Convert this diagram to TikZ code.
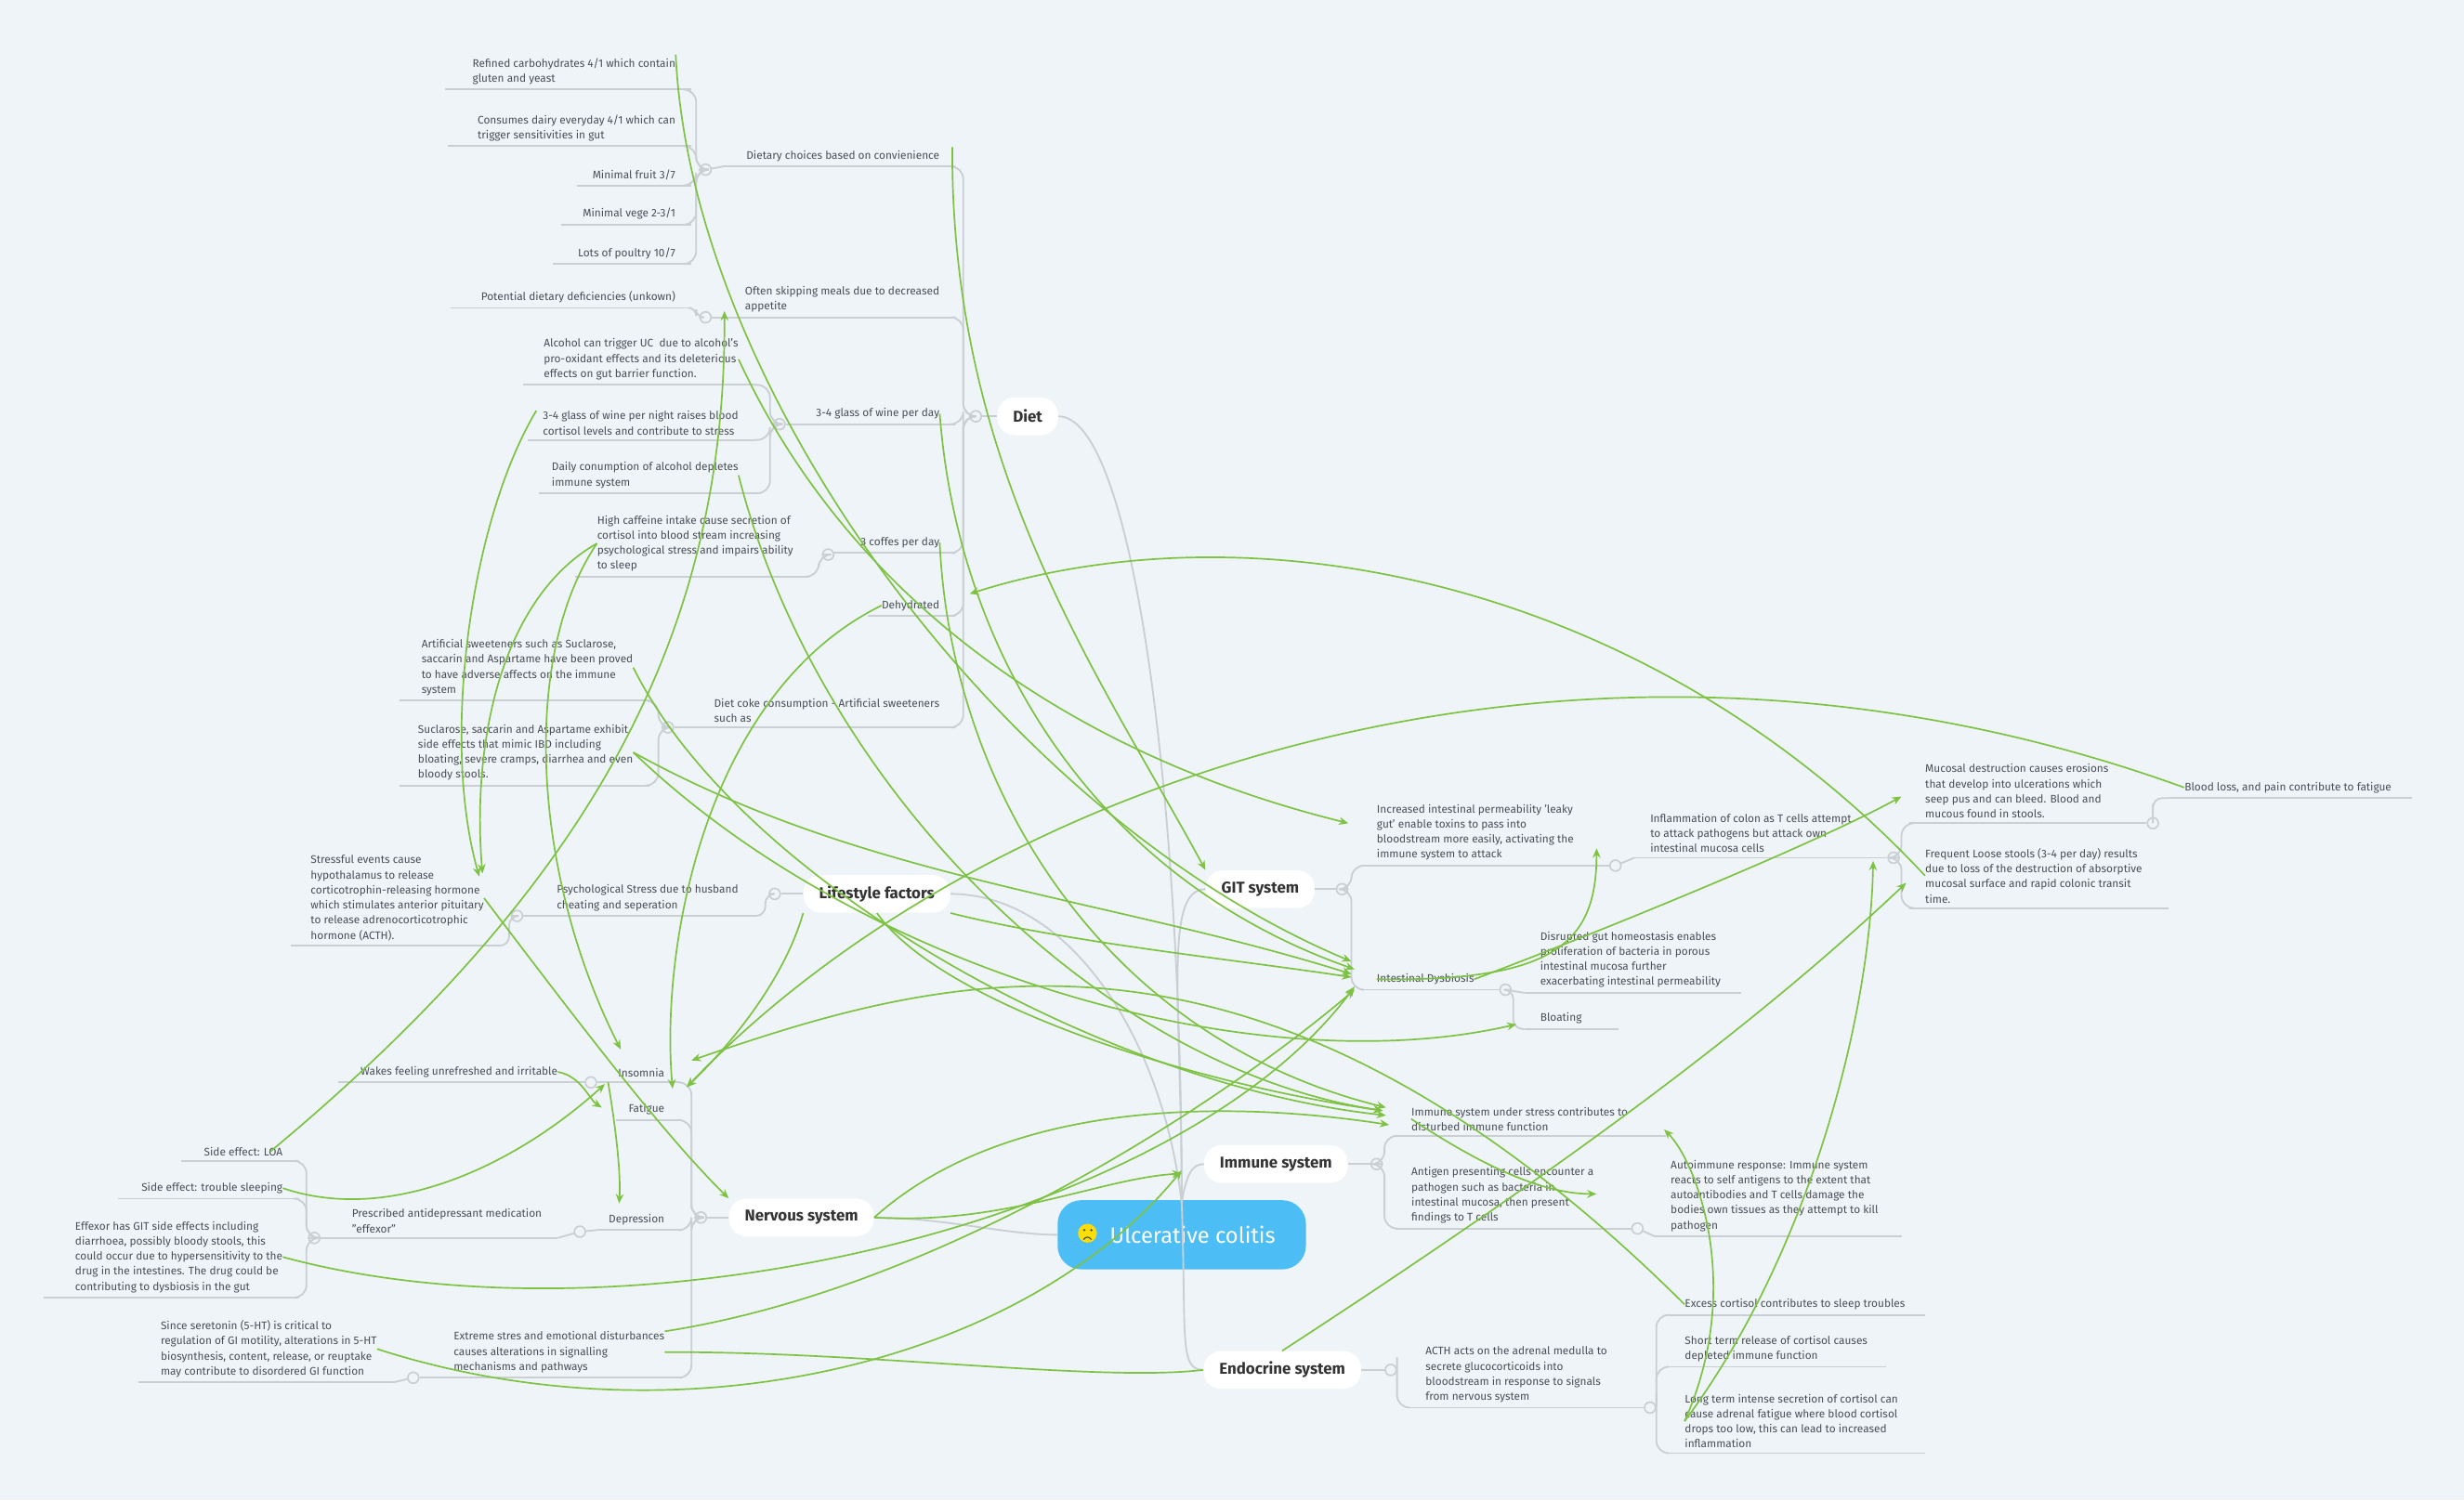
\documentclass[tikz,border=0pt]{standalone}
\usepackage{fontspec}
\setmainfont{Fira Sans}
\usetikzlibrary{calc,arrows.meta}
\definecolor{bg}{HTML}{EEF4F7}
\definecolor{tr}{HTML}{C9CFD3}
\definecolor{gr}{HTML}{7DC242}
\definecolor{tx}{HTML}{4A4F55}
\definecolor{uc}{HTML}{4DBEF5}
\newcommand\lf[5]{\coordinate (#1-l) at (#2,#4);\coordinate (#1-r) at (#3,#4);
 \draw[tree] (#1-l)--(#1-r);
 \node[leaf,anchor=south east] (#1) at ($(#1-r)+(-10,-3)$) {#5};}
\newcommand\rt[5]{\coordinate (#1-l) at (#2,#4);\coordinate (#1-r) at (#3,#4);
 \draw[tree] (#1-l)--(#1-r);
 \node[leaf,anchor=south west] (#1) at ($(#1-l)+(10,-3)$) {#5};}
\newcommand\bdot[2]{\node[dotn] (#1) at (#2) {};}
\begin{document}
\begin{tikzpicture}[x=1pt,y=-1pt,
 tree/.style={draw=tr,line width=1.1pt},
 leaf/.style={inner sep=0pt,align=left,text=tx,font=\fontsize{7}{9.6}\selectfont},
 dotn/.style={circle,draw=tr,fill=bg,line width=1pt,minimum size=7pt,inner sep=0pt},
 topic/.style={fill=white,rounded corners=11pt,minimum height=24pt,inner xsep=10pt,font=\fontsize{10}{12}\selectfont\bfseries,text=black!80},
 ga/.style={draw=gr,line width=1pt,-{Stealth[length=6pt,width=5pt]}},
 gl/.style={draw=gr,line width=1pt}]
\fill[bg] (0,0) rectangle (1568,955);
\useasboundingbox (0,0) rectangle (1568,955);
% ---------------- central + topics
\node[fill=uc,rounded corners=15pt,minimum width=158pt,minimum height=44pt,text=white,font=\fontsize{14}{16}\selectfont,text depth=0pt] (uc) at (752,786) {\hspace{14pt}Ulcerative colitis};
\fill[yellow!80!orange] (692,785) circle (6pt);
\fill[black!70] (690,783) circle (0.8pt) (694.5,783) circle (0.8pt);
\draw[black!70,line width=0.7pt] (689.5,789) .. controls (691,787) and (693,787) .. (694.5,789);
\node[topic] (diet) at (654,265) {Diet};
\node[topic] (life) at (558,569) {Lifestyle factors};
\node[topic] (git) at (802,566) {GIT system};
\node[topic] (imm) at (812,741) {Immune system};
\node[topic] (nerv) at (510,775) {Nervous system};
\node[topic] (endo) at (816,872) {Endocrine system};
\coordinate (hub) at (752,766);
\draw[tree] (hub) .. controls (752,500) and (720,265) .. (diet.east);
\draw[tree] (hub) .. controls (752,640) and (740,566) .. (git.west);
\draw[tree] (hub) .. controls (740,660) and (680,569) .. (life.east);
\draw[tree] (hub) .. controls (755,745) and (760,741) .. (imm.west);
\draw[tree] (uc.west) .. controls (640,786) and (600,775) .. (nerv.east);
\draw[tree] (hub) .. controls (755,850) and (750,872) .. (endo.west);
% ---------------- Diet
\bdot{dd}{621,265}
\draw[tree] (diet.west)--(dd);
\lf{dc}{460}{608}{106}{Dietary choices based on convienience}
\lf{sk}{460}{608}{202}{Often skipping meals due to decreased\\appetite}
\lf{wn}{503}{608}{270}{3-4 glass of wine per day}
\lf{cf}{530}{608}{352}{3 coffes per day}
\lf{dh}{552}{608}{392}{Dehydrated}
\lf{dk}{437}{608}{463}{Diet coke consumption - Artificial sweeteners\\such as}
\foreach \c in {dc,sk,wn,cf,dh,dk}{\draw[tree,rounded corners=8pt] (dd)--++(-8,0)|-(\c-r);}
\bdot{d1}{449,108}\draw[tree] (d1)--(dc-l);
\lf{rc}{283}{440}{57}{Refined carbohydrates 4/1 which contain\\gluten and yeast}
\lf{cd}{285}{440}{93}{Consumes dairy everyday 4/1 which can\\trigger sensitivities in gut}
\lf{mf}{367}{440}{118}{Minimal fruit 3/7}
\lf{mv}{357}{440}{143}{Minimal vege 2-3/1}
\lf{lp}{352}{440}{168}{Lots of poultry 10/7}
\foreach \c in {rc,cd,mf,mv,lp}{\draw[tree,rounded corners=8pt] (d1)--++(-6,0)|-(\c-r);}
\bdot{d2}{449,202}\draw[tree] (d2)--(sk-l);
\lf{pd}{287}{440}{196}{Potential dietary deficiencies (unkown)}
\draw[tree,rounded corners=5pt] (d2)--++(-6,0)|-(pd-r);
\bdot{d3}{496,270}\draw[tree] (d3)--(wn-l);
\lf{al}{333}{480}{245}{Alcohol can trigger UC\ \ due to alcohol's\\pro-oxidant effects and its deleterious\\effects on gut barrier function.}
\lf{wc}{336}{480}{280}{3-4 glass of wine per night raises blood\\cortisol levels and contribute to stress}
\lf{da}{343}{480}{314}{Daily conumption of alcohol depletes\\immune system}
\foreach \c in {al,wc,da}{\draw[tree,rounded corners=8pt] (d3)--++(-6,0)|-(\c-r);}
\bdot{d4}{527,353}\draw[tree] (d4)--(cf-l);
\lf{hc}{366}{515}{367}{High caffeine intake cause secretion of\\cortisol into blood stream increasing\\psychological stress and impairs ability\\to sleep}
\draw[tree,rounded corners=8pt] (d4)--++(-6,0)|-(hc-r);
\bdot{d5}{425,463}\draw[tree] (d5)--(dk-l);
\lf{as}{254}{413}{446}{Artificial sweeteners such as Suclarose,\\saccarin and Aspartame have been proved\\to have adverse affects on the immune\\system}
\lf{sa}{254}{413}{500}{Suclarose, saccarin and Aspartame exhibit\\side effects that mimic IBD including\\bloating, severe cramps, diarrhea and even\\bloody stools.}
\foreach \c in {as,sa}{\draw[tree,rounded corners=8pt] (d5)--++(-6,0)|-(\c-r);}
% ---------------- Lifestyle
\bdot{l0}{493,569}\draw[tree] (life.west)--(l0);
\lf{ps}{340}{480}{583}{Psychological Stress due to husband\\cheating and seperation}
\draw[tree,rounded corners=6pt] (l0)--++(-6,0)|-(ps-r);
\bdot{l1}{329,583}\draw[tree] (l1)--(ps-l);
\lf{se}{185}{318}{602}{Stressful events cause\\hypothalamus to release\\corticotrophin-releasing hormone\\which stimulates anterior pituitary\\to release adrenocorticotrophic\\hormone (ACTH).}
\draw[tree,rounded corners=6pt] (l1)--++(-5,0)|-(se-r);
% ---------------- Nervous
\bdot{n0}{446,775}\draw[tree] (nerv.west)--(n0);
\lf{in}{387}{433}{689}{Insomnia}
\lf{fa}{392}{433}{713}{Fatigue}
\lf{dp}{380}{433}{783}{Depression}
\lf{ex}{275}{433}{877}{Extreme stres and emotional disturbances\\causes alterations in signalling\\mechanisms and pathways}
\foreach \c in {in,fa,dp,ex}{\draw[tree,rounded corners=8pt] (n0)--++(-6,0)|-(\c-r);}
\bdot{n1}{376,689}\draw[tree] (n1)--(in-l);
\lf{wk}{215}{365}{689}{Wakes feeling unrefreshed and irritable}
\draw[tree] (n1)--(wk-r);
\bdot{n2}{369,784}\draw[tree] (n2)--(dp-l);
\lf{pr}{210}{355}{788}{Prescribed antidepressant medication\\"effexor"}
\draw[tree] (n2)--(pr-r);
\bdot{n3}{200,788}\draw[tree] (n3)--(pr-l);
\lf{lo}{115}{190}{739}{Side effect: LOA}
\lf{ts}{75}{190}{763}{Side effect: trouble sleeping}
\lf{ef}{28}{190}{826}{Effexor has GIT side effects including\\diarrhoea, possibly bloody stools, this\\could occur due to hypersensitivity to the\\drug in the intestines. The drug could be\\contributing to dysbiosis in the gut}
\foreach \c in {lo,ts,ef}{\draw[tree,rounded corners=8pt] (n3)--++(-5,0)|-(\c-r);}
\bdot{n4}{263,877}\draw[tree] (n4)--(ex-l);
\lf{sr}{88}{250}{880}{Since seretonin (5-HT) is critical to\\regulation of GI motility, alterations in 5-HT\\biosynthesis, content, release, or reuptake\\may contribute to disordered GI function}
\draw[tree] (n4)--(sr-r);
% ---------------- GIT
\bdot{g0}{854,566}\draw[tree] (git.east)--(g0);
\rt{lg}{866}{1018}{551}{Increased intestinal permeability 'leaky\\gut' enable toxins to pass into\\bloodstream more easily, activating the\\immune system to attack}
\rt{id}{866}{950}{630}{Intestinal Dysbiosis}
\foreach \c in {lg,id}{\draw[tree,rounded corners=8pt] (g0)--++(6,0)|-(\c-l);}
\bdot{g1}{1028,551}\draw[tree] (lg-r)--(g1);
\rt{ic}{1040}{1195}{546}{Inflammation of colon as T cells attempt\\to attack pathogens but attack own\\intestinal mucosa cells}
\draw[tree] (g1)--(ic-l);
\bdot{g2}{1205,546}\draw[tree] (ic-r)--(g2);
\rt{md}{1215}{1362}{524}{Mucosal destruction causes erosions\\that develop into ulcerations which\\seep pus and can bleed. Blood and\\mucous found in stools.}
\rt{fl}{1215}{1380}{578}{Frequent Loose stools (3-4 per day) results\\due to loss of the destruction of absorptive\\mucosal surface and rapid colonic transit\\time.}
\foreach \c in {md,fl}{\draw[tree,rounded corners=8pt] (g2)--++(5,0)|-(\c-l);}
\bdot{g3}{1370,524}\draw[tree] (md-r)--(g3);
\rt{bl}{1380}{1535}{508}{Blood loss, and pain contribute to fatigue}
\draw[tree,rounded corners=6pt] (g3)--++(0,-6)|-(bl-l);
\bdot{g4}{958,630}\draw[tree] (id-r)--(g4);
\rt{dg}{970}{1108}{632}{Disrupted gut homeostasis enables\\proliferation of bacteria in porous\\intestinal mucosa further\\exacerbating intestinal permeability}
\rt{bt}{970}{1030}{655}{Bloating}
\draw[tree] (g4)--(dg-l);
\draw[tree,rounded corners=6pt] (g4)--++(5,0)|-(bt-l);
% ---------------- Immune
\bdot{i0}{876,741}\draw[tree] (imm.east)--(i0);
\rt{is}{888}{1060}{723}{Immune system under stress contributes to\\disturbed immune function}
\rt{ap}{888}{1035}{782}{Antigen presenting cells encounter a\\pathogen such as bacteria in\\intestinal mucosa, then present\\findings to T cells}
\foreach \c in {is,ap}{\draw[tree,rounded corners=8pt] (i0)--++(5,0)|-(\c-l);}
\bdot{i1}{1042,782}\draw[tree] (ap-r)--(i1);
\rt{ar}{1053}{1210}{787}{Autoimmune response: Immune system\\reacts to self antigens to the extent that\\autoantibodies and T cells damage the\\bodies own tissues as they attempt to kill\\pathogen}
\draw[tree] (i1)--(ar-l);
% ---------------- Endocrine
\bdot{e0}{885,872}\draw[tree] (endo.east)--(e0);
\rt{ac}{897}{1040}{896}{ACTH acts on the adrenal medulla to\\secrete glucocorticoids into\\bloodstream in response to signals\\from nervous system}
\draw[tree,rounded corners=8pt] (e0)--++(4,0)|-(ac-l);
\bdot{e1}{1050,896}\draw[tree] (ac-r)--(e1);
\rt{xc}{1062}{1225}{837}{Excess cortisol contributes to sleep troubles}
\rt{st}{1062}{1200}{870}{Short term release of cortisol causes\\depleted immune function}
\rt{lt}{1062}{1225}{925}{Long term intense secretion of cortisol can\\cause adrenal fatigue where blood cortisol\\drops too low, this can lead to increased\\inflammation}
\foreach \c in {xc,st,lt}{\draw[tree,rounded corners=8pt] (e1)--++(4,0)|-(\c-l);}
% ---------------- green arrows
\draw[ga] (rc.north east)++(0,-2) .. controls (440,250) and (640,520) .. (860,612);
\draw[ga] (dc.north east)++(8,-2) .. controls (605,300) and (700,430) .. (git.north west);
\draw[ga] (lo.east)++(-8,0) .. controls (380,560) and (462,400) .. (461,198);
\draw[ga] (wc.north west)++(-4,0) .. controls (300,330) and (280,470) .. (305,558);
\draw[ga] (al.east) .. controls (540,380) and (680,480) .. (858,524);
\draw[ga] (da.east) .. controls (520,500) and (700,680) .. (880,707);
\draw[ga] (hc.west) .. controls (320,380) and (300,470) .. (307,556);
\draw[ga] (hc.west) .. controls (330,420) and (340,560) .. (395,668);
\draw[ga] (dh.west) .. controls (450,440) and (420,600) .. (428,693);
\draw[ga] (fl.west) .. controls (1050,370) and (800,320) .. (617,378);
\draw[ga] (bl.west) .. controls (1000,360) and (620,500) .. (437,692);
\draw[ga] (wn.east) .. controls (610,420) and (700,560) .. (862,617);
\draw[ga] (cf.east) .. controls (605,500) and (700,660) .. (882,705);
\draw[ga] (as.east) .. controls (470,560) and (700,690) .. (882,710);
\draw[ga] (sa.east) .. controls (550,620) and (800,690) .. (965,652);
\draw[ga] (sa.east) .. controls (550,560) and (700,570) .. (860,620);
\draw[ga] (se.east) .. controls (360,640) and (420,720) .. (nerv.north west);
\draw[ga] (wk.east) .. controls (370,685) and (375,700) .. (383,705);
\draw[ga] (ts.east) .. controls (250,780) and (330,740) .. (385,690);
\draw[ga] (xc.west) .. controls (800,560) and (600,620) .. (440,675);
\draw[ga] (in-l) .. controls (393,725) and (395,750) .. (394,766);
\draw[ga] (ef.east) .. controls (400,860) and (750,780) .. (862,628);
\draw[ga] (sr.east) .. controls (430,920) and (650,870) .. (752,745);
\draw[gl] (ex.east) .. controls (550,860) and (700,880) .. (endo.west);
\draw[ga] (nerv.east) .. controls (640,780) and (700,750) .. (752,747);
\draw[ga] (nerv.east) .. controls (640,700) and (780,700) .. (884,716);
\draw[ga] (endo.north) .. controls (1000,740) and (1120,650) .. (1213,562);
\draw[ga] (id.east) .. controls (1000,600) and (1150,540) .. (1210,507);
\draw[ga] (id.west) .. controls (990,625) and (1016,600) .. (1016,540);
\draw[ga] (lt.west) .. controls (1150,800) and (1190,650) .. (1192,548);
\draw[ga] (lt.west) .. controls (1110,820) and (1080,740) .. (1059,719);
\draw[ga] (is.west) .. controls (940,740) and (980,760) .. (1016,760);
\draw[ga] (life.south west) .. controls (500,620) and (470,660) .. (437,692);
\draw[ga] (life.south) .. controls (600,640) and (760,690) .. (880,707);
\draw[ga] (life.south east) .. controls (680,600) and (780,610) .. (860,622);
\draw[ga] (ex.north east) .. controls (600,820) and (780,700) .. (862,630);
\end{tikzpicture}
\end{document}
